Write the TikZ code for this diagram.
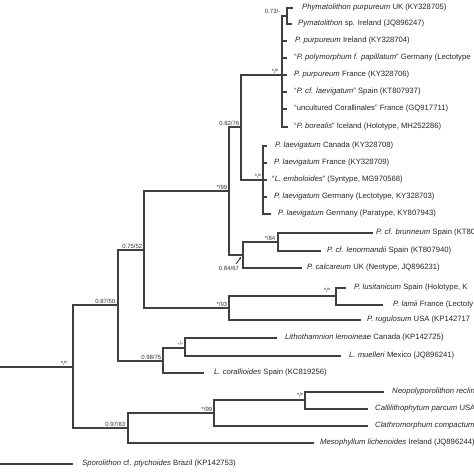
\documentclass[tikz,border=0pt]{standalone}
\usepackage{fontspec}
\setmainfont{Liberation Sans}
\usetikzlibrary{arrows.meta}
\begin{document}
\begin{tikzpicture}[x=1pt,y=-1pt,
  br/.style={line width=1.3pt, draw=black!75, line cap=rect},
  tx/.style={anchor=west, inner sep=0pt, font=\fontsize{7.7}{9}\selectfont, text=black!85},
  sup/.style={anchor=south east, inner sep=0.5pt, font=\fontsize{6}{7}\selectfont, text=black!80}]
\useasboundingbox (0,0) rectangle (474,474);
% internal nodes
\coordinate (R0) at (0,367);
\coordinate (R) at (73,367);
\coordinate (A) at (118,305);
\coordinate (B) at (144,250);
\coordinate (C) at (229,191);
\coordinate (D) at (241,127);
\coordinate (E) at (282,75);
\coordinate (F) at (287,16);
\coordinate (G) at (263,180);
\coordinate (H) at (243,255);
\coordinate (I) at (278,242);
\coordinate (J) at (229,308);
\coordinate (K) at (336,296);
\coordinate (L) at (163,361);
\coordinate (M) at (185,348);
\coordinate (N) at (128,428);
\coordinate (O) at (214,413);
\coordinate (P) at (305,400);
\coordinate (S0) at (0,464);
% leaf tips
\coordinate (t1) at (292,8);
\coordinate (t2) at (291,24);
\coordinate (t3) at (286,41);
\coordinate (t4) at (286,58);
\coordinate (t5) at (286,75);
\coordinate (t6) at (286,92);
\coordinate (t7) at (286,109);
\coordinate (t8) at (287,127);
\coordinate (t9) at (266,146);
\coordinate (t10) at (266,163);
\coordinate (t11) at (266,180);
\coordinate (t12) at (266,197);
\coordinate (t13) at (270,214);
\coordinate (t14) at (372,233);
\coordinate (t15) at (320,251);
\coordinate (t16) at (301,268);
\coordinate (t17) at (345,288);
\coordinate (t18) at (382,305);
\coordinate (t19) at (360,320);
\coordinate (t20) at (276,338);
\coordinate (t21) at (340,356);
\coordinate (t22) at (203,373);
\coordinate (t23) at (383,392);
\coordinate (t24) at (367,409);
\coordinate (t25) at (367,426);
\coordinate (t26) at (313,443);
\coordinate (t27) at (72,464);
% leaf labels
\node[tx] (L1) at (302,8) {\textit{Phymatolithon purpureum} UK (KY328705)};
\node[tx] (L2) at (298,24) {\textit{Pymatolithon} sp. Ireland (JQ896247)};
\node[tx] (L3) at (295,41) {\textit{P. purpureum} Ireland (KY328704)};
\node[tx] (L4) at (294,58) {“\textit{P. polymorphum f. papillatum}” Germany (Lectotype};
\node[tx] (L5) at (294,75) {\textit{P. purpureum} France (KY328706)};
\node[tx] (L6) at (294,92) {“\textit{P. cf. laevigatum}” Spain (KT807937)};
\node[tx] (L7) at (294,109) {“uncultured Corallinales” France (GQ917711)};
\node[tx] (L8) at (294,127) {“\textit{P. borealis}” Iceland (Holotype, MH252286)};
\node[tx] (L9) at (275,146) {\textit{P. laevigatum} Canada (KY328708)};
\node[tx] (L10) at (274,163) {\textit{P. laevigatum} France (KY328709)};
\node[tx] (L11) at (272,180) {“\textit{L. emboloides}” (Syntype, MG970568)};
\node[tx] (L12) at (274,197) {\textit{P. laevigatum} Germany (Lectotype, KY328703)};
\node[tx] (L13) at (278,214) {\textit{P. laevigatum} Germany (Paratype, KY807943)};
\node[tx] (L14) at (376,233) {\textit{P. cf. brunneum} Spain (KT80};
\node[tx] (L15) at (327,251) {\textit{P. cf. lenormandii} Spain (KT807940)};
\node[tx] (L16) at (307,268) {\textit{P. calcareum} UK (Neotype, JQ896231)};
\node[tx] (L17) at (354,288) {\textit{P. lusitanicum} Spain (Holotype, K};
\node[tx] (L18) at (393,305) {\textit{P. lamii} France (Lectoty};
\node[tx] (L19) at (367,320) {\textit{P. rugulosum} USA (KP142717};
\node[tx] (L20) at (285,338) {\textit{Lithothamnion lemoineae} Canada (KP142725)};
\node[tx] (L21) at (349,356) {\textit{L. muelleri} Mexico (JQ896241)};
\node[tx] (L22) at (214,373) {\textit{L. corallioides} Spain (KC819256)};
\node[tx] (L23) at (392,392) {\textit{Neopolyporolithon reclin}};
\node[tx] (L24) at (375,409) {\textit{Callilithophytum parcum} USA};
\node[tx] (L25) at (375,426) {\textit{Clathromorphum compactum}};
\node[tx] (L26) at (320,443) {\textit{Mesophyllum lichenoides} Ireland (JQ896244)};
\node[tx] (L27) at (82,464) {\textit{Sporolithon} cf. \textit{ptychoides} Brazil (KP142753)};
% branches
\draw[br] (R0) -- (R);
\draw[br] (R |- A) -- (R |- N);
\draw[br] (R |- A) -- (A);
\draw[br] (R |- N) -- (N);
\draw[br] (A |- B) -- (A |- L);
\draw[br] (A |- B) -- (B);
\draw[br] (A |- L) -- (L);
\draw[br] (B |- C) -- (B |- J);
\draw[br] (B |- C) -- (C);
\draw[br] (B |- J) -- (J);
\draw[br] (C |- D) -- (C |- H);
\draw[br] (C |- D) -- (D);
\draw[br] (C |- H) -- (H);
\draw[br] (D |- E) -- (D |- G);
\draw[br] (D |- E) -- (E);
\draw[br] (D |- G) -- (G);
\draw[br] (E |- F) -- (E |- t8);
\draw[br] (E |- F) -- (F);
\foreach \t in {t3,t4,t5,t6,t7,t8} \draw[br] (E |- \t) -- (\t);
\draw[br] (F |- t1) -- (F |- t2);
\draw[br] (F |- t1) -- (t1);
\draw[br] (F |- t2) -- (t2);
\draw[br] (G |- t9) -- (G |- t13);
\foreach \t in {t9,t10,t11,t12,t13} \draw[br] (G |- \t) -- (\t);
\draw[br] (H |- I) -- (H |- t16);
\draw[br] (H |- I) -- (I);
\draw[br] (H |- t16) -- (t16);
\draw[br] (I |- t14) -- (I |- t15);
\draw[br] (I |- t14) -- (t14);
\draw[br] (I |- t15) -- (t15);
\draw[br] (J |- K) -- (J |- t19);
\draw[br] (J |- K) -- (K);
\draw[br] (J |- t19) -- (t19);
\draw[br] (K |- t17) -- (K |- t18);
\draw[br] (K |- t17) -- (t17);
\draw[br] (K |- t18) -- (t18);
\draw[br] (L |- M) -- (L |- t22);
\draw[br] (L |- M) -- (M);
\draw[br] (L |- t22) -- (t22);
\draw[br] (M |- t20) -- (M |- t21);
\draw[br] (M |- t20) -- (t20);
\draw[br] (M |- t21) -- (t21);
\draw[br] (N |- O) -- (N |- t26);
\draw[br] (N |- O) -- (O);
\draw[br] (N |- t26) -- (t26);
\draw[br] (O |- P) -- (O |- t25);
\draw[br] (O |- P) -- (P);
\draw[br] (O |- t25) -- (t25);
\draw[br] (P |- t23) -- (P |- t24);
\draw[br] (P |- t23) -- (t23);
\draw[br] (P |- t24) -- (t24);
\draw[br] (S0) -- (t27);
% support values
\node[sup] (sR) at (68,366) {*/*};
\node[sup] (sA) at (116,304) {0.87/50};
\node[sup] (sB) at (143,249) {0.75/52};
\node[sup] (sC) at (228,190) {*/99};
\node[sup] (sD) at (240,126) {0.82/76};
\node[sup] (sE) at (279,74) {*/*};
\node[sup] (sF) at (281,14) {0.73/-};
\node[sup] (sG) at (262,179) {*/*};
\node[sup, anchor=north] (sH) at (229,265) {0.84/67};
\node[sup] (sI) at (276,241) {*/84};
\node[sup] (sJ) at (228,307) {*/93};
\node[sup] (sK) at (331,293) {*/*};
\node[sup] (sL) at (162,360) {0.98/75};
\node[sup] (sM) at (184,346) {-/-};
\node[sup] (sN) at (126,427) {0.97/83};
\node[sup] (sO) at (213,412) {*/99};
\node[sup] (sP) at (304,398) {*/*};
\coordinate (a1) at (236,264);
\coordinate (a2) at (241,257);
\draw[line width=0.8pt, draw=black!85, -{Stealth[length=2.5pt,width=2.5pt]}] (a1) -- (a2);
\end{tikzpicture}
\end{document}
